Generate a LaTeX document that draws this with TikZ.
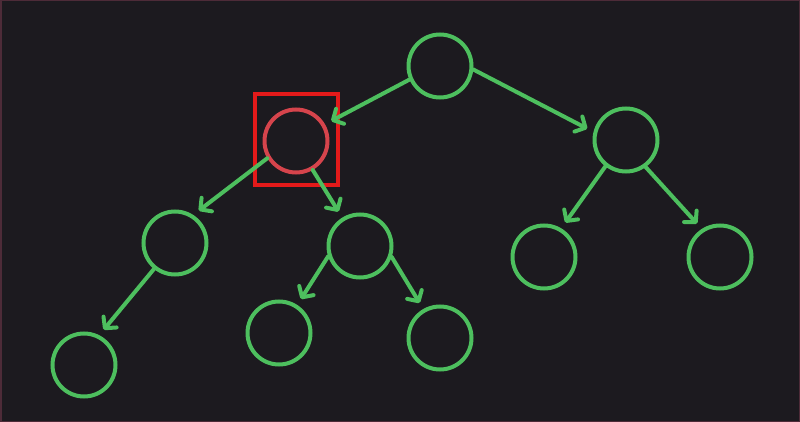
\documentclass[tikz,border=0pt]{standalone}
\usetikzlibrary{arrows.meta}
\definecolor{bg}{HTML}{1C1A1F}
\definecolor{frame}{HTML}{4D2B38}
\definecolor{grn}{HTML}{4DBF5E}
\definecolor{redc}{HTML}{D6444C}
\definecolor{redsq}{HTML}{E31A1A}
\begin{document}
\begin{tikzpicture}[x=1pt,y=-1pt,
  tnode/.style={circle,draw=grn,line width=4pt,minimum size=63pt,inner sep=0pt},
  hnode/.style={tnode,draw=redc},
  conn/.style={draw=grn,line width=4pt,line cap=round,
    -{Straight Barb[length=8pt,width=17pt,line cap=round,line join=round]},
    shorten >=7pt}]
\fill[bg] (0,0) rectangle (800,422);
\useasboundingbox (0,0) rectangle (800,422);
\draw[frame,line width=1.5pt] (0.75,0.75) rectangle (799.25,421.25);
\node[tnode] (r) at (440,66) {};
\node[hnode] (a) at (296,141) {};
\node[tnode] (b) at (626,140) {};
\node[tnode] (c) at (175,243) {};
\node[tnode] (d) at (360,246) {};
\node[tnode] (cl) at (84,365) {};
\node[tnode] (dl) at (279,333) {};
\node[tnode] (dr) at (440,338) {};
\node[tnode] (bl) at (544,257) {};
\node[tnode] (br) at (720,257) {};
\node[draw=redsq,line width=4pt,minimum width=83pt,minimum height=91pt,inner sep=0pt,outer sep=0pt] (sq) at (296.5,139.5) {};
\draw[conn] (r.204) -- (a.30);
\draw[conn] (r.354) -- (b.166);
\draw[conn] (a.211) -- (c.57);
\draw[conn] (a.300) -- (d.122);
\draw[conn] (c.231) -- (cl.63);
\draw[conn] (d.198) -- (dl.57);
\draw[conn] (d.341) -- (dr.120);
\draw[conn] (b.232) -- (bl.59);
\draw[conn] (b.306) -- (br.123);
\end{tikzpicture}
\end{document}
